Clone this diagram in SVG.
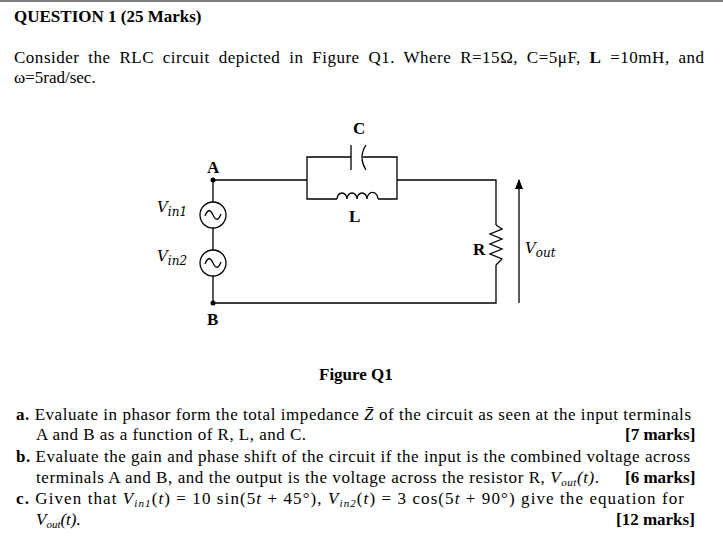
<svg xmlns="http://www.w3.org/2000/svg" width="723" height="541" viewBox="0 0 723 541">
<style>
text{font-family:"Liberation Serif",serif;font-size:17px;fill:#000}
.b{font-weight:bold}
.i{font-style:italic;font-family:"DejaVu Serif","Liberation Serif",serif;font-size:15px}
.w{fill:none;stroke:#000;stroke-width:1.3}
</style>
<defs><marker id="ah" markerWidth="10" markerHeight="8" refX="9" refY="4" orient="auto" markerUnits="userSpaceOnUse"><path d="M0,0 L10,4 L0,8 Z" fill="#000"/></marker></defs>
<rect width="723" height="541" fill="#fff"/>
<line x1="0" y1="1" x2="723" y2="1" stroke="#000" stroke-width="1"/>
<text x="14" y="22" class="b">QUESTION 1 (25 Marks)</text>
<text x="14" y="63" textLength="690" lengthAdjust="spacing" word-spacing="4">Consider the RLC circuit depicted in Figure Q1. Where R=15Ω, C=5μF, <tspan class="b">L</tspan> =10mH, and</text>
<text x="14" y="83">ω=5rad/sec.</text>
<g id="connectors" class="w">
<path d="M213,180 H307 M397,180 H496 V225 M496,265 V303 H213 V276 M213,250 V228 M213,202 V180"/>
<path d="M351,157 H307 V199 H337 M363,157 H397 V199 H378"/>
<line x1="519" y1="303" x2="519" y2="180" marker-end="url(#ah)"/>
</g>
<g id="C"><line x1="351" y1="145" x2="351" y2="170" class="w"/><path d="M366,145 Q358,157 366,170" class="w"/><text x="353" y="134" class="b">C</text></g>
<g id="L"><path d="M337,199 a5,6 0 0 1 10,0 a5,6 0 0 1 10,0 a5,6 0 0 1 10,0 a5,6 0 0 1 11,0" class="w"/><text x="349" y="222" class="b">L</text></g>
<g id="R"><path d="M496,225 L502,229 L490,234 L502,239 L490,244 L502,249 L490,254 L502,259 L496,265" class="w"/><text x="473" y="255" class="b">R</text></g>
<g id="Vin1"><circle cx="213" cy="215" r="13" class="w"/><path d="M205,216 Q209,206 213,215 Q217,224 221,214" class="w"/><text x="157" y="212" class="i">V<tspan font-size="12" dy="4">in1</tspan></text></g>
<g id="Vin2"><circle cx="213" cy="263" r="13" class="w"/><path d="M205,264 Q209,254 213,263 Q217,272 221,262" class="w"/><text x="157" y="261" class="i">V<tspan font-size="12" dy="4">in2</tspan></text></g>
<g id="A"><circle cx="213" cy="180" r="2.5"/><text x="207" y="173" class="b">A</text></g>
<g id="B"><circle cx="213" cy="303" r="2.5"/><text x="207" y="325" class="b">B</text></g>
<g id="Vout"><text x="525" y="253" class="i">V<tspan font-size="12" dy="4">out</tspan></text></g>
<text x="319" y="380" class="b">Figure Q1</text>
<text x="16" y="420" textLength="675" lengthAdjust="spacing"><tspan class="b">a.</tspan> Evaluate in phasor form the total impedance<tspan font-style="italic"> Z̄</tspan> of the circuit as seen at the input terminals</text>
<text x="36" y="440" textLength="270" lengthAdjust="spacing">A and B as a function of R, L, and C.</text>
<text x="625" y="440" class="b">[7 marks]</text>
<text x="16" y="462" textLength="674" lengthAdjust="spacing"><tspan class="b">b.</tspan> Evaluate the gain and phase shift of the circuit if the input is the combined voltage across</text>
<text x="36" y="483" textLength="563" lengthAdjust="spacing">terminals A and B, and the output is the voltage across the resistor R, <tspan font-style="italic">V<tspan font-size="11" dy="3">out</tspan><tspan dy="-3">(t)</tspan></tspan>.</text>
<text x="625" y="483" class="b">[6 marks]</text>
<text x="16" y="504" textLength="668" lengthAdjust="spacing"><tspan class="b">c.</tspan> Given that <tspan font-style="italic">V<tspan font-size="11" dy="3">in1</tspan></tspan><tspan dy="-3">(<tspan font-style="italic">t</tspan>) = 10 sin(5<tspan font-style="italic">t</tspan> + 45°), </tspan><tspan font-style="italic">V<tspan font-size="11" dy="3">in2</tspan></tspan><tspan dy="-3">(<tspan font-style="italic">t</tspan>) = 3 cos(5<tspan font-style="italic">t</tspan> + 90°) give the equation for</tspan></text>
<text x="36" y="525" font-style="italic">V<tspan font-size="11" dy="3">out</tspan><tspan dy="-3">(t).</tspan></text>
<text x="616" y="525" class="b">[12 marks]</text>
</svg>
